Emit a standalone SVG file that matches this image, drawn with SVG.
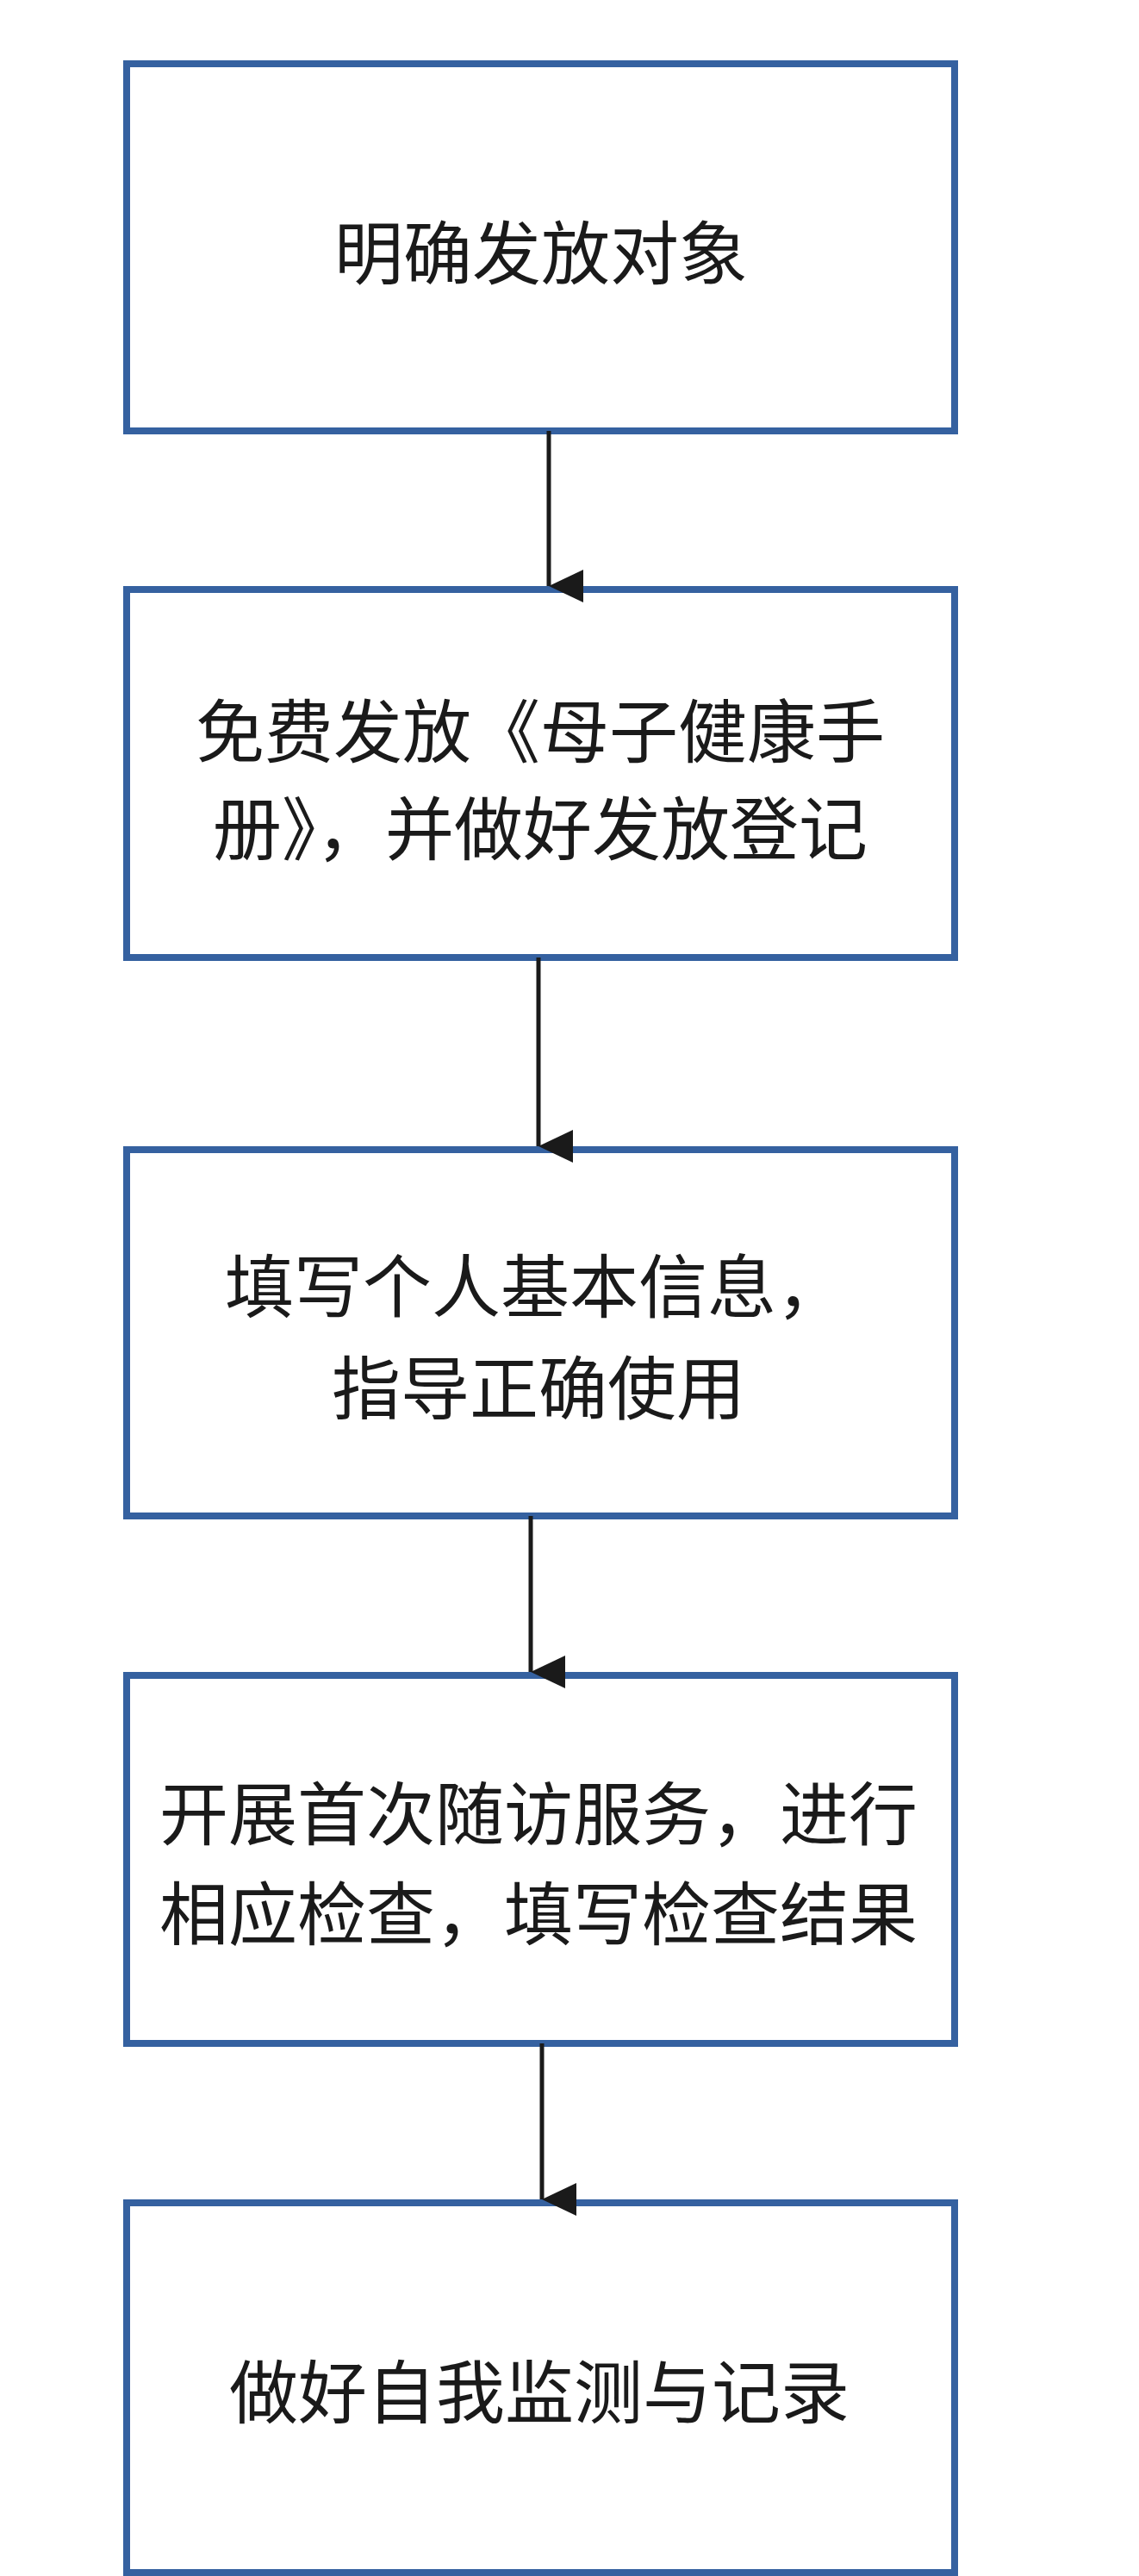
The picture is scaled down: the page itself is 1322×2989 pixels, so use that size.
<svg xmlns="http://www.w3.org/2000/svg" width="1322" height="2989" viewBox="0 0 1322 2989">
<style>
.box{fill:#fff;stroke:#3561a0;stroke-width:8}
.t{font-family:"Noto Sans CJK SC",sans-serif;font-size:80px;fill:#1a1a1a;text-anchor:middle}
.c{stroke:#1a1a1a;stroke-width:5;fill:none}
</style>
<defs><marker id="a" markerWidth="38" markerHeight="40" refX="19" refY="40" orient="auto" markerUnits="userSpaceOnUse" viewBox="0 0 38 40"><path d="M0,0L38,0L19,40Z" fill="#1a1a1a"/></marker></defs>
<rect width="1322" height="2989" fill="#fff"/>
<g id="n1"><rect class="box" x="147" y="74" width="961" height="426"/><text class="t" x="628" y="323">明确发放对象</text></g>
<g id="n2"><rect class="box" x="147" y="684" width="961" height="427"/><text class="t" x="627" y="878">免费发放《母子健康手</text><text class="t" x="627" y="991">册》，并做好发放登记</text></g>
<g id="n3"><rect class="box" x="147" y="1334" width="961" height="425"/><text class="t" x="261" y="1522" style="text-anchor:start">填写个人基本信息，</text><text class="t" x="625" y="1640">指导正确使用</text></g>
<g id="n4"><rect class="box" x="147" y="1944" width="961" height="427"/><text class="t" x="625" y="2134">开展首次随访服务，进行</text><text class="t" x="625" y="2250">相应检查，填写检查结果</text></g>
<g id="n5"><rect class="box" x="147" y="2556" width="961" height="429"/><text class="t" x="626" y="2805">做好自我监测与记录</text></g>
<g id="connectors">
<line class="c" x1="637" y1="500" x2="637" y2="680" marker-end="url(#a)"/>
<line class="c" x1="625" y1="1111" x2="625" y2="1330" marker-end="url(#a)"/>
<line class="c" x1="616" y1="1759" x2="616" y2="1940" marker-end="url(#a)"/>
<line class="c" x1="629" y1="2371" x2="629" y2="2552" marker-end="url(#a)"/>
</g>
</svg>
